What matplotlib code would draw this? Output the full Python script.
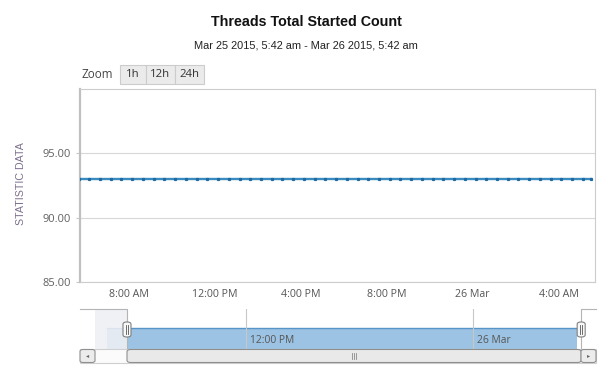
import matplotlib
matplotlib.use("Agg")
import matplotlib.pyplot as plt
import matplotlib.dates as mdates
import matplotlib.transforms as mtransforms
from matplotlib.patches import Rectangle, FancyBboxPatch
import pandas as pd

title = "Threads Total Started Count"
subtitle = "Mar 25 2015, 5:42 am - Mar 26 2015, 5:42 am"
y_label = "STATISTIC DATA"

# sample times (half-hourly) and the started-thread count
times_25 = ["04:38", "05:08", "05:38", "06:08", "06:38", "07:08", "07:38",
            "08:08", "08:38", "09:08", "09:38", "10:08", "10:38", "11:08",
            "11:38", "12:08", "12:38", "13:08", "13:38", "14:08", "14:38",
            "15:08", "15:38", "16:08", "16:38", "17:08", "17:38", "18:08",
            "18:38", "19:08", "19:38", "20:08", "20:38", "21:08", "21:38",
            "22:08", "22:38", "23:08", "23:38"]
times_26 = ["00:08", "00:38", "01:08", "01:38", "02:08", "02:38", "03:08",
            "03:38", "04:08", "04:38", "05:08", "05:30"]
counts = [93.0, 93.0, 93.0, 93.0, 93.0, 93.0, 93.0, 93.0, 93.0, 93.0,
          93.0, 93.0, 93.0, 93.0, 93.0, 93.0, 93.0, 93.0, 93.0, 93.0,
          93.0, 93.0, 93.0, 93.0, 93.0, 93.0, 93.0, 93.0, 93.0, 93.0,
          93.0, 93.0, 93.0, 93.0, 93.0, 93.0, 93.0, 93.0, 93.0, 93.0,
          93.0, 93.0, 93.0, 93.0, 93.0, 93.0, 93.0, 93.0, 93.0, 93.0,
          93.0]

view_start = "2015-03-25 05:42"
view_end = "2015-03-26 05:42"
nav_start = "2015-03-25 03:13"
nav_end = "2015-03-26 06:29"
mask_start = "2015-03-25 04:00"

y_ticks = [85, 90, 95]
y_range = (85, 100)
x_ticks = ["2015-03-25 08:00", "2015-03-25 12:00", "2015-03-25 16:00",
           "2015-03-25 20:00", "2015-03-26 00:00", "2015-03-26 04:00"]
x_tick_labels = ["8:00 AM", "12:00 PM", "4:00 PM", "8:00 PM", "26 Mar", "4:00 AM"]
nav_ticks = ["2015-03-25 12:00", "2015-03-26 00:00"]
nav_tick_labels = ["12:00 PM", "26 Mar"]
zoom_buttons = ["1h", "12h", "24h"]

times = pd.to_datetime(["2015-03-25 " + t for t in times_25] +
                       ["2015-03-26 " + t for t in times_26])

W, H = 612, 373


def fx(px):
    return px / W


def fy(py):
    return 1 - py / H


fig = plt.figure(figsize=(W / 100, H / 100), dpi=100)
fig.patch.set_facecolor("white")

# ---- main chart
ax = fig.add_axes([fx(80), fy(282), fx(595) - fx(80), fy(89) - fy(282)])
ax.plot(times, counts, color="#3a8bbf", lw=1.7, marker="s", ms=1.3,
        mfc="#1f6aa0", mec="#1f6aa0", zorder=3)
ax.set_xlim(pd.Timestamp(view_start), pd.Timestamp(view_end))
ax.set_ylim(*y_range)
ax.set_yticks(y_ticks)
ax.set_yticklabels(["%.2f" % v for v in y_ticks])
ax.set_xticks(pd.to_datetime(x_ticks))
ax.set_xticklabels(x_tick_labels)
ax.yaxis.grid(True, color="#d8d8d8", lw=0.8)
ax.set_axisbelow(True)
for side in ["top", "right", "bottom"]:
    ax.spines[side].set_color("#cccccc")
    ax.spines[side].set_linewidth(0.8)
ax.spines["left"].set_color("#c0c0c0")
ax.spines["left"].set_linewidth(1.6)
ax.tick_params(axis="y", length=3, color="#c8c8c8", pad=3.5,
               labelsize=8, labelcolor="#606060")
ax.tick_params(axis="x", length=0, pad=5, labelsize=7.7, labelcolor="#555555")
for lab in ax.get_xticklabels() + ax.get_yticklabels():
    lab.set_family("Open Sans")

fig.text(fx(21), fy(184), y_label, rotation=90, ha="center", va="center",
         fontsize=7.7, color="#7d6f8e", family="Liberation Sans")
fig.text(fx(306), fy(22), title, ha="center", va="center", fontsize=10.3,
         weight="bold", family="Liberation Sans", color="#111111")
fig.text(fx(306), fy(45), subtitle, ha="center", va="center", fontsize=7.9,
         family="Liberation Sans", color="#222222")

# ---- range selector buttons
fig.text(fx(81), fy(74.5), "Zoom", ha="left", va="center", fontsize=8.4,
         family="Open Sans", color="#444444")
bx = 120
for name in zoom_buttons:
    bw = 20 + 3 * len(name)
    fig.add_artist(Rectangle((fx(bx), fy(84)), fx(bw), fy(65) - fy(84),
                             transform=fig.transFigure, facecolor="#ebebeb",
                             edgecolor="#cccccc", lw=0.8))
    fig.text(fx(bx + bw / 2), fy(74.5), name, ha="center", va="center",
             fontsize=8.2, family="Open Sans", color="#333333")
    bx += bw

# ---- navigator
nav = fig.add_axes([fx(80), fy(349), fx(596) - fx(80), fy(309) - fy(349)])
nav.fill_between(times, counts, 83, color="#9cc3e3", lw=0, zorder=1)
nav.plot(times, counts, color="#5795c8", lw=1.0, zorder=2)
nav.set_xlim(pd.Timestamp(nav_start), pd.Timestamp(nav_end))
nav.set_ylim(83, 102)
nav.set_xticks([])
nav.set_yticks([])
for s in nav.spines.values():
    s.set_visible(False)
nav.patch.set_alpha(0)
blend = mtransforms.blended_transform_factory(nav.transData, nav.transAxes)
for t, lab in zip(pd.to_datetime(nav_ticks), nav_tick_labels):
    nav.plot([t, t], [0, 1], transform=blend, color="#c8c8c8", lw=0.8, zorder=2.5)
    nav.annotate(lab, (mdates.date2num(t), 0.22), xycoords=blend,
                 xytext=(2.5, 0), textcoords="offset points", ha="left",
                 va="center", fontsize=7.4, family="Open Sans", color="#555555")
nav.axvspan(pd.Timestamp(mask_start), pd.Timestamp(view_start),
            color="#eef0f4", alpha=0.88, lw=0, zorder=3)

vs, ve = pd.Timestamp(view_start), pd.Timestamp(view_end)
ns, ne = pd.Timestamp(nav_start), pd.Timestamp(nav_end)
nav.plot([ns, vs, vs], [1, 1, 0], transform=blend, color="#b4b4b4", lw=0.8,
         clip_on=False, zorder=4)
nav.plot([ne, ve, ve], [1, 1, 0], transform=blend, color="#b4b4b4", lw=0.8,
         clip_on=False, zorder=4)

hx = [nav.transData.transform((mdates.date2num(t), 0))[0] for t in (vs, ve)]

# ---- scrollbar
fig.add_artist(Rectangle((fx(80), fy(363)), fx(596) - fx(80), fy(349) - fy(363),
                         transform=fig.transFigure, facecolor="#fbfbfb",
                         edgecolor="#cfcfcf", lw=0.8))
fig.add_artist(FancyBboxPatch((fx(hx[0]), fy(362.5)), fx(hx[1] - hx[0]),
                              fy(349.5) - fy(362.5),
                              boxstyle="round,pad=0,rounding_size=0.006",
                              transform=fig.transFigure, facecolor="#e9e9e9",
                              edgecolor="#8f8f8f", lw=0.8))
mid = (hx[0] + hx[1]) / 2
for dx in (-2, 0, 2):
    fig.add_artist(plt.Line2D([fx(mid + dx)] * 2, [fy(353), fy(359)],
                              transform=fig.transFigure, color="#8a8a8a", lw=0.6))
for x0, glyph in ((80, "\u25c2"), (581, "\u25b8")):
    fig.add_artist(FancyBboxPatch((fx(x0), fy(362.5)), fx(15), fy(349.5) - fy(362.5),
                                  boxstyle="round,pad=0,rounding_size=0.005",
                                  transform=fig.transFigure, facecolor="#ececec",
                                  edgecolor="#8f8f8f", lw=0.8))
    fig.text(fx(x0 + 7.5), fy(356), glyph, ha="center", va="center",
             fontsize=4.5, color="#666666", family="DejaVu Sans")

# ---- navigator handles
for x in hx:
    fig.add_artist(FancyBboxPatch((fx(x - 4), fy(337)), fx(8), fy(322) - fy(337),
                                  boxstyle="round,pad=0,rounding_size=0.006",
                                  transform=fig.transFigure, facecolor="#f8f8f8",
                                  edgecolor="#808080", lw=0.8, zorder=5))
    for dx in (-1.2, 1.2):
        fig.add_artist(plt.Line2D([fx(x + dx)] * 2, [fy(325), fy(334)],
                                  transform=fig.transFigure, color="#555555",
                                  lw=0.6, zorder=6))

fig.savefig("out.png", dpi=100)
